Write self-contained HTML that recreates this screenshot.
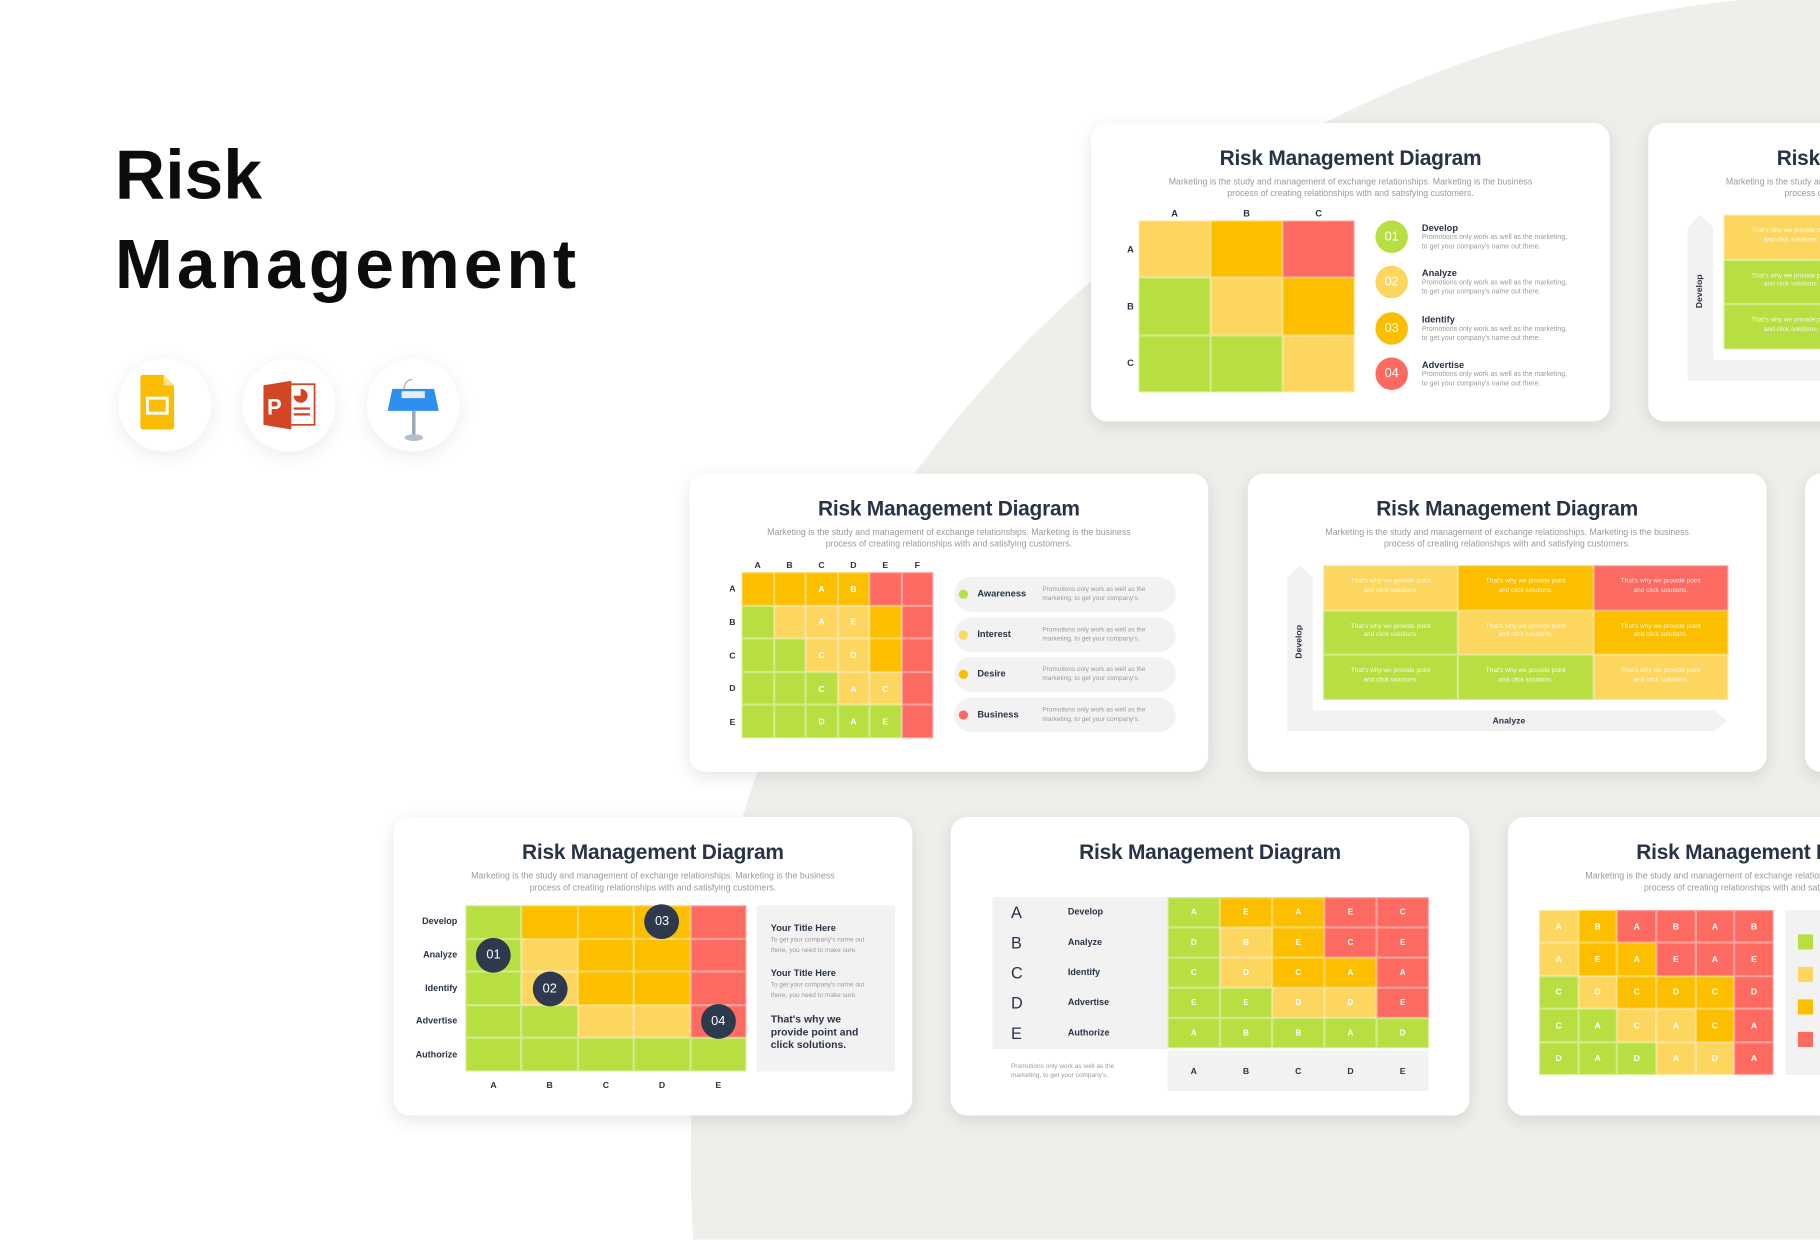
<!DOCTYPE html>
<html><head><meta charset="utf-8">
<style>
*{margin:0;padding:0;box-sizing:border-box}
html,body{width:1820px;height:1240px;overflow:hidden;background:#fff;font-family:"Liberation Sans",sans-serif}
#frame{position:absolute;left:0;top:0;width:1820px;height:1240px;overflow:hidden}
#root{position:absolute;left:0;top:0;width:1568px;height:1068px;transform:scale(1.16071);transform-origin:0 0;overflow:hidden}
.abs{position:absolute}
.card{position:absolute;width:447px;height:257px;background:#fff;border-radius:14px;box-shadow:0 4px 14px rgba(0,0,0,0.10);overflow:hidden}
.title{position:absolute;left:0;width:447px;text-align:center;font-weight:bold;font-size:18px;color:#283347;top:20px;letter-spacing:-0.2px}
.sub{position:absolute;left:40px;width:367px;text-align:center;font-size:7.6px;line-height:10px;color:#9a9a9a;top:46px}
.cell{position:absolute;border:0.5px solid rgba(255,255,255,0.35);color:#fff;font-weight:bold;display:flex;align-items:center;justify-content:center;text-align:center}
.lbl{position:absolute;font-size:8px;font-weight:bold;color:#283347;transform:translate(-50%,-50%);white-space:nowrap}
.desc{position:absolute;font-size:6px;line-height:8px;color:#9a9a9a;white-space:nowrap}
</style></head>
<body>
<div id="frame">
<div id="root">
<svg class="abs" style="left:0;top:0" width="1568" height="1068"><circle cx="1600" cy="1000" r="1005" fill="#efeeea"/></svg>

<div class="abs" style="left:99px;top:112px;font-size:60px;font-weight:bold;color:#0c0c0c;line-height:77px"><span style="letter-spacing:0px">Risk</span><br><span style="letter-spacing:3.4px">Management</span></div>

<div class="abs" style="left:102px;top:309px;width:80px;height:80px;border-radius:50%;background:#fff;box-shadow:0 4px 16px rgba(0,0,0,0.08)">
 <svg width="80" height="80"><path d="M21 14h18l9 9v36a2 2 0 0 1-2 2H21a2 2 0 0 1-2-2V16a2 2 0 0 1 2-2z" fill="#fbbc04"/><path d="M39 14l9 9h-9z" fill="#fde293"/><rect x="25" y="34" width="17" height="13" fill="none" stroke="#fff" stroke-width="2.5"/></svg></div>
<div class="abs" style="left:209px;top:309px;width:80px;height:80px;border-radius:50%;background:#fff;box-shadow:0 4px 16px rgba(0,0,0,0.08)">
 <svg width="80" height="80"><rect x="34" y="22" width="28" height="35" fill="#fff" stroke="#d24625" stroke-width="1.5"/><path d="M18 23l24-4v42l-24-4z" fill="#d24625"/><text x="21" y="48" font-family="Liberation Sans" font-weight="bold" font-size="19" fill="#fff">P</text><rect x="44" y="42" width="14" height="2" fill="#d24625"/><rect x="44" y="47" width="14" height="2" fill="#d24625"/><path d="M50 26a6 6 0 1 1-6 6h6z" fill="#d24625"/></svg></div>
<div class="abs" style="left:316px;top:309px;width:80px;height:80px;border-radius:50%;background:#fff;box-shadow:0 4px 16px rgba(0,0,0,0.08)">
 <svg width="80" height="80"><path d="M22 26h36l4 19H18z" fill="#2f8ff0"/><rect x="30" y="28" width="20" height="6" fill="#e8eef8"/><rect x="39" y="45" width="3" height="22" fill="#9aa7b6"/><ellipse cx="40.5" cy="68" rx="8" ry="3" fill="#b5c0cc"/><path d="M32 26c1-6 4-8 7-8" stroke="#aaa" fill="none"/></svg></div>

<div class="card" style="left:940px;top:106px" id="c1"></div>
<div class="card" style="left:1420px;top:106px" id="c2"></div>
<div class="card" style="left:594px;top:408px" id="c3"></div>
<div class="card" style="left:1075px;top:408px" id="c4"></div>
<div class="card" style="left:1555px;top:408px" id="c5"></div>
<div class="card" style="left:339px;top:704px" id="c6"></div>
<div class="card" style="left:819px;top:704px" id="c7"></div>
<div class="card" style="left:1299px;top:704px" id="c8"></div>
</div>
</div>
<script>
// colour keys: G=green, Y=light yellow, O=orange, R=red
const palette={G:"#b8df42",Y:"#fdd660",O:"#fbbf00",R:"#fd6a61"};
const subText="Marketing is the study and management of exchange relationships. Marketing is the business<br>process of creating relationships with and satisfying customers.";

const c1Cols=["A","B","C"];
const c1Rows=["A","B","C"];
const c1Cells=[["Y","O","R"],["G","Y","O"],["G","G","Y"]];
const c1Legend=["Develop","Analyze","Identify","Advertise"];
const c1LegendNums=["01","02","03","04"];
const c1LegendColors=["G","Y","O","R"];

const axisCells=[["Y","O","R"],["G","Y","O"],["G","G","Y"]];

const c3Cols=["A","B","C","D","E","F"];
const c3Rows=["A","B","C","D","E"];
const c3Cells=[["O","O","O","O","R","R"],["G","Y","Y","Y","O","R"],["G","G","Y","Y","O","R"],["G","G","G","Y","Y","R"],["G","G","G","G","G","R"]];
const c3Text=[["","","A","B","",""],["","","A","E","",""],["","","C","D","",""],["","","C","A","C",""],["","","D","A","E",""]];
const c3Legend=["Awareness","Interest","Desire","Business"];
const c3LegendColors=["G","Y","O","R"];

const c6Cols=["A","B","C","D","E"];
const c6Rows=["Develop","Analyze","Identify","Advertise","Authorize"];
const c6Cells=[["G","O","O","O","R"],["G","Y","O","O","R"],["G","Y","O","O","R"],["G","G","Y","Y","R"],["G","G","G","G","G"]];
const c6Markers=["01","02","03","04"];
const c6MarkerCol=[0.5,1.5,3.5,4.5];
const c6MarkerRow=[1.5,2.5,0.5,3.5];

const c7Letters=["A","B","C","D","E"];
const c7Rows=["Develop","Analyze","Identify","Advertise","Authorize"];
const c7Cols=["A","B","C","D","E"];
const c7Cells=[["G","O","O","R","R"],["G","Y","O","R","R"],["G","Y","O","O","R"],["G","G","Y","Y","R"],["G","G","G","G","G"]];
const c7Text=[["A","E","A","E","C"],["D","B","E","C","E"],["C","D","C","A","A"],["E","E","D","D","E"],["A","B","B","A","D"]];

const c8Cells=[["Y","O","R","R","R","R"],["Y","O","O","R","R","R"],["G","Y","O","O","O","R"],["G","G","Y","Y","O","R"],["G","G","G","Y","Y","R"]];
const c8Text=[["A","B","A","B","A","B"],["A","E","A","E","A","E"],["C","D","C","D","C","D"],["C","A","C","A","C","A"],["D","A","D","A","D","A"]];
const c8LegendColors=["G","Y","O","R"];

function mk(parent,cls,style,html){const e=document.createElement('div');if(cls)e.className=cls;e.style.cssText=style;if(html!==undefined)e.innerHTML=html;parent.appendChild(e);return e;}
function header(card,withSub,name){
  const t=mk(card,'title','',"Risk Management Diagram");
  
  
  if(withSub){const s=mk(card,'sub','',subText);
  
  }
}
function grid(card,x0,y0,w,h,cells,text,fs,name){
  const nr=cells.length,nc=cells[0].length,cw=w/nc,ch=h/nr;
  cells.forEach((row,r)=>row.forEach((k,c)=>{
    const e=mk(card,'cell',`left:${x0+c*cw}px;top:${y0+r*ch}px;width:${cw}px;height:${ch}px;background:${palette[k]};font-size:${fs}px;`,text?text[r][c]:"");
    
    
  }));
  return {cw,ch};
}
function label(card,x,y,t,fs,name,extra){
  const e=mk(card,'lbl',`left:${x}px;top:${y}px;font-size:${fs}px;${extra||''}`,t);
  
  
  return e;
}

(function(){const c=document.getElementById('c1');header(c,true,'c1');
 const g=grid(c,41,84,186,148,c1Cells,null,8,'c1');
 c1Cols.forEach((t,i)=>label(c,41+(i+0.5)*g.cw,78,t,8,'c1-col-label'));
 c1Rows.forEach((t,i)=>label(c,34,84+(i+0.5)*g.ch,t,8,'c1-row-label'));
 c1Legend.forEach((t,i)=>{const y=98+i*39.3;
  const d=mk(c,'',`position:absolute;left:245px;top:${y-14}px;width:28px;height:28px;border-radius:50%;background:${palette[c1LegendColors[i]]};color:#fff;font-size:11px;display:flex;align-items:center;justify-content:center`,c1LegendNums[i]);
  
  
  const l=mk(c,'',`position:absolute;left:285px;top:${y-12}px;font-size:8px;font-weight:bold;color:#283347`,t);
  
  
  const s=mk(c,'desc',`left:285px;top:${y-3}px`,"Promotions only work as well as the marketing,<br>to get your company's name out there.");
  
  
 });})();

function axisCard(id,name){const c=document.getElementById(id);header(c,true,name);
 const ar=document.createElementNS('http://www.w3.org/2000/svg','svg');
 ar.setAttribute('width','447');ar.setAttribute('height','257');ar.style.cssText='position:absolute;left:0;top:0';
 ar.innerHTML='<path d="M34 90 L45 79 L56 90 L56 204 L402 204 L413 213 L402 222 L34 222 Z" fill="#f2f2f2"/>';
 
 
 c.appendChild(ar);
 const g=grid(c,65,79,349,116,axisCells,null,5.5,name);
 axisCells.forEach((row,r)=>row.forEach((k,ci)=>{
  const e=mk(c,'',`position:absolute;left:${65+ci*g.cw}px;top:${79+r*g.ch+11}px;width:${g.cw}px;text-align:center;font-size:5.6px;line-height:7.5px;color:rgba(255,255,255,0.85)`,"That's why we provide point<br>and click solutions.");
  
  
 }));
 label(c,44,145,'Develop',7.5,name+'-y-axis-title','transform:translate(-50%,-50%) rotate(-90deg)');
 label(c,225,213,'Analyze',7.5,name+'-x-axis-title');
}
axisCard('c2','c2');axisCard('c4','c4');

(function(){const c=document.getElementById('c3');header(c,true,'c3');
 const g=grid(c,45,85,165,143,c3Cells,c3Text,7.5,'c3');
 c3Cols.forEach((t,i)=>label(c,45+(i+0.5)*g.cw,79,t,7.5,'c3-col-label'));
 c3Rows.forEach((t,i)=>label(c,37,85+(i+0.5)*g.ch,t,7.5,'c3-row-label'));
 c3Legend.forEach((t,i)=>{const y=104+i*34.7;
  const p=mk(c,'',`position:absolute;left:228px;top:${y-15}px;width:191px;height:30px;border-radius:15px;background:#f2f2f2`);
  
  
  const d=mk(c,'',`position:absolute;left:232px;top:${y-4}px;width:8px;height:8px;border-radius:50%;background:${palette[c3LegendColors[i]]}`);
  
  
  const l=mk(c,'',`position:absolute;left:248px;top:${y-5}px;font-size:8px;font-weight:bold;color:#283347`,t);
  
  
  const s=mk(c,'desc',`left:304px;top:${y-8}px;font-size:5.6px;line-height:8px`,"Promotions only work as well as the<br>marketing, to get your company's.");
  
  
 });})();

(function(){const c=document.getElementById('c6');header(c,true,'c6');
 const g=grid(c,62,76,242,143,c6Cells,null,8,'c6');
 c6Cols.forEach((t,i)=>label(c,62+(i+0.5)*g.cw,231,t,7.5,'c6-col-label'));
 c6Rows.forEach((t,i)=>{const e=mk(c,'',`position:absolute;right:${447-55}px;top:${76+(i+0.5)*g.ch-5}px;font-size:7.8px;font-weight:bold;color:#283347`,t);
  
  });
 c6Markers.forEach((t,i)=>{const x=62+c6MarkerCol[i]*g.cw,y=76+c6MarkerRow[i]*g.ch;
  const m=mk(c,'',`position:absolute;left:${x-15}px;top:${y-15}px;width:30px;height:30px;border-radius:50%;background:#2d3a4e;color:#fff;font-size:11px;display:flex;align-items:center;justify-content:center`,t);
  
  });
 const p=mk(c,'',`position:absolute;left:313px;top:76px;width:119px;height:143px;background:#f2f2f2`);
 
 
 p.innerHTML=`<div style="position:absolute;left:12px;top:15px;font-size:8px;font-weight:bold;color:#283347">Your Title Here</div>
 <div class="desc" style="left:12px;top:26px;font-size:5.6px;line-height:9px">To get your company's name out<br>there, you need to make sure.</div>
 <div style="position:absolute;left:12px;top:54px;font-size:8px;font-weight:bold;color:#283347">Your Title Here</div>
 <div class="desc" style="left:12px;top:65px;font-size:5.6px;line-height:9px">To get your company's name out<br>there, you need to make sure.</div>
 <div style="position:absolute;left:12px;top:93px;font-size:9px;line-height:11px;font-weight:bold;color:#283347">That's why we<br>provide point and<br>click solutions.</div>`;})();

(function(){const c=document.getElementById('c7');header(c,false,'c7');
 const lp=mk(c,'',`position:absolute;left:36px;top:69px;width:151px;height:131px;background:#f2f2f2`);
 
 
 const bp=mk(c,'',`position:absolute;left:187px;top:201px;width:225px;height:35px;background:#f2f2f2`);
 
 
 const g=grid(c,187,69,225,130,c7Cells,c7Text,7,'c7');
 c7Cols.forEach((t,i)=>label(c,187+(i+0.5)*g.cw,219,t,7.5,'c7-col-label'));
 c7Letters.forEach((t,i)=>{const e=mk(c,'',`position:absolute;left:52px;top:${69+(i+0.5)*g.ch-8}px;font-size:14px;color:#283347`,t);
  
  });
 c7Rows.forEach((t,i)=>{const e=mk(c,'',`position:absolute;left:101px;top:${69+(i+0.5)*g.ch-5}px;font-size:7.8px;font-weight:bold;color:#283347`,t);
  
  });
 const d=mk(c,'desc',`left:52px;top:211px;font-size:5.6px`,"Promotions only work as well as the<br>marketing, to get your company's.");
 
 })();

(function(){const c=document.getElementById('c8');header(c,true,'c8');
 grid(c,27,80,202,142,c8Cells,c8Text,7.5,'c8');
 const p=mk(c,'',`position:absolute;left:239px;top:80px;width:208px;height:142px;background:#f2f2f2`);
 
 
 c8LegendColors.forEach((k,i)=>{const s=mk(c,'',`position:absolute;left:250px;top:${101+i*28}px;width:13px;height:13px;background:${palette[k]}`);
  
  });})();
</script>
</body></html>
